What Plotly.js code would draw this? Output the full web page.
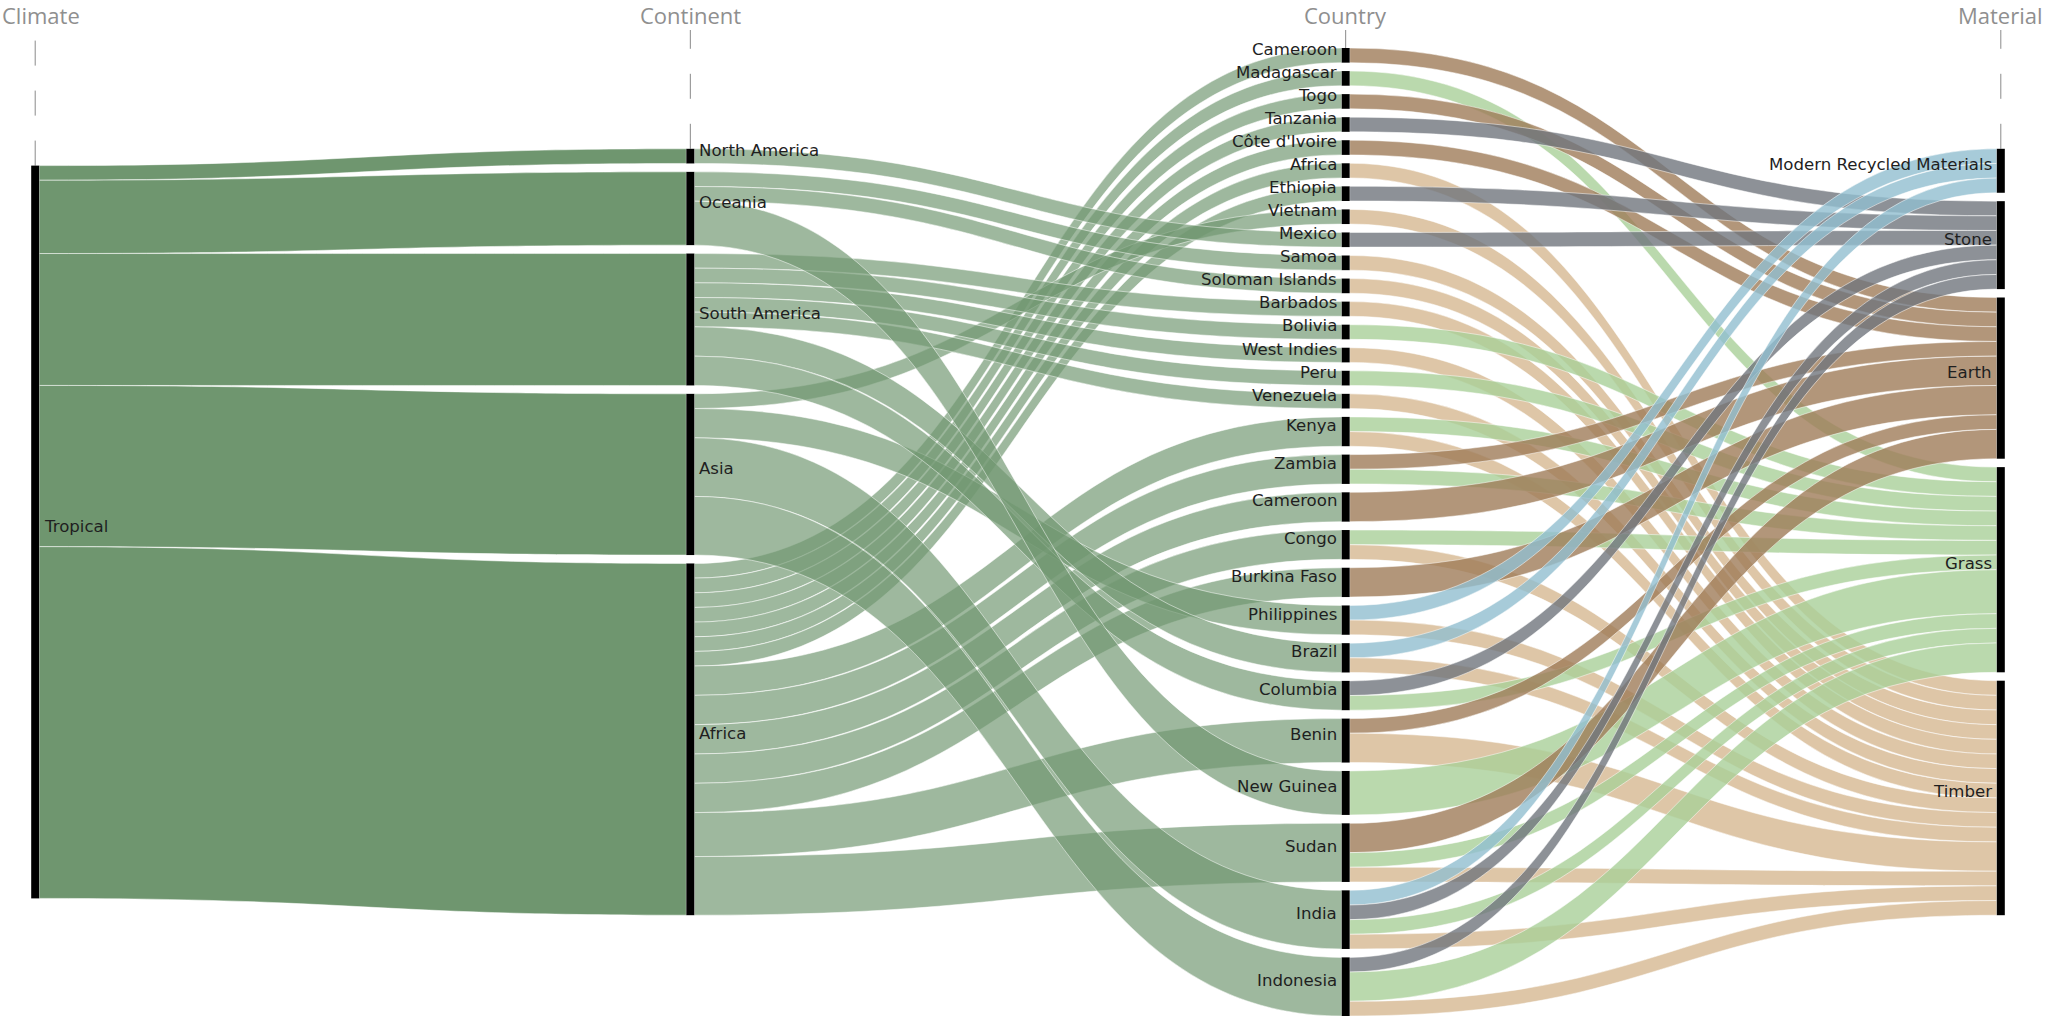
<!DOCTYPE html>
<html>
<head>
<meta charset="utf-8">
<script src="https://cdn.plot.ly/plotly-3.0.1.min.js"></script>
<style>
html,body{margin:0;padding:0;background:#fff;}
#chart{width:2048px;height:1034px;}
</style>
</head>
<body>
<div id="chart"></div>
<script>
// ---------- DATA ----------
const columnTitles = ['Climate', 'Continent', 'Country', 'Material'];
const climates = ['Tropical'];
const continents = ['North America', 'Oceania', 'South America', 'Asia', 'Africa'];
const countries = ['Cameroon', 'Madagascar', 'Togo', 'Tanzania', "Côte d'Ivoire", 'Africa', 'Ethiopia',
  'Vietnam', 'Mexico', 'Samoa', 'Soloman Islands', 'Barbados', 'Bolivia', 'West Indies', 'Peru',
  'Venezuela', 'Kenya', 'Zambia', 'Cameroon', 'Congo', 'Burkina Faso', 'Philippines', 'Brazil',
  'Columbia', 'Benin', 'New Guinea', 'Sudan', 'India', 'Indonesia'];
const countryContinent = ['Africa', 'Africa', 'Africa', 'Africa', 'Africa', 'Africa', 'Africa',
  'Asia', 'North America', 'Oceania', 'Oceania', 'South America', 'South America', 'South America', 'South America',
  'South America', 'Africa', 'Africa', 'Africa', 'Africa', 'Africa', 'Asia', 'South America',
  'South America', 'Africa', 'Oceania', 'Africa', 'Asia', 'Asia'];
const materials = ['Modern Recycled Materials', 'Stone', 'Earth', 'Grass', 'Timber'];

// country (index in countries) -> material flows
const flowCountry = [0, 1, 2, 3, 4, 5, 6, 7, 8, 9, 10, 11, 12, 13, 14, 15,
  16, 16, 17, 17, 18, 19, 19, 20, 21, 21, 22, 22, 23, 23, 24, 24, 25,
  26, 26, 26, 27, 27, 27, 27, 28, 28, 28];
const flowMaterial = ['Earth', 'Grass', 'Earth', 'Stone', 'Earth', 'Timber', 'Stone', 'Timber',
  'Stone', 'Timber', 'Timber', 'Timber', 'Grass', 'Timber', 'Grass', 'Timber',
  'Grass', 'Timber', 'Earth', 'Grass', 'Earth', 'Grass', 'Timber', 'Earth',
  'Modern Recycled Materials', 'Timber', 'Modern Recycled Materials', 'Timber',
  'Stone', 'Grass', 'Earth', 'Timber', 'Grass',
  'Earth', 'Grass', 'Timber', 'Modern Recycled Materials', 'Stone', 'Grass', 'Timber',
  'Stone', 'Grass', 'Timber'];
const flowValue = [1, 1, 1, 1, 1, 1, 1, 1, 1, 1, 1, 1, 1, 1, 1, 1,
  1, 1, 1, 1, 2, 1, 1, 2, 1, 1, 1, 1, 1, 1, 1, 2, 3,
  2, 1, 1, 1, 1, 1, 1, 1, 2, 1];

// ---------- STYLE ----------
const style = {
  climateLink: 'rgb(111,150,111)',
  continentLink: 'rgba(112,150,112,0.68)',
  material: {
    'Modern Recycled Materials': 'rgba(145,190,208,0.8)',
    'Stone': 'rgba(112,117,125,0.8)',
    'Earth': 'rgba(159,124,89,0.8)',
    'Grass': 'rgba(169,208,153,0.8)',
    'Timber': 'rgba(214,184,145,0.8)'
  },
  labelFont: {family: 'DejaVu Sans', size: 16.6, color: '#1f1f1f'},
  titleFont: {family: 'Open Sans', size: 22, color: '#8f8f8f'}
};
const W = 2048, HT = 1034;
const margin = {l: 35, r: 47, t: 48, b: 18};
const plotH = HT - margin.t - margin.b;
const plotW = W - margin.l - margin.r;
const pad = 8.4, thickness = 8;

// ---------- BUILD ----------
const offCont = climates.length;
const offCountry = offCont + continents.length;
const offMat = offCountry + countries.length;
const labels = [].concat(climates, continents, countries, materials);

const countryTotal = countries.map(() => 0);
flowCountry.forEach((c, i) => { countryTotal[c] += flowValue[i]; });
const contTotal = continents.map(ct => countries.reduce((s, c, i) => s + (countryContinent[i] === ct ? countryTotal[i] : 0), 0));
const matTotal = materials.map(m => flowMaterial.reduce((s, mm, i) => s + (mm === m ? flowValue[i] : 0), 0));
const climTotal = [contTotal.reduce((a, b) => a + b, 0)];

const src = [], tgt = [], val = [], col = [];
continents.forEach((ct, j) => { src.push(0); tgt.push(offCont + j); val.push(contTotal[j]); col.push(style.climateLink); });
countries.forEach((c, i) => {
  src.push(offCont + continents.indexOf(countryContinent[i])); tgt.push(offCountry + i);
  val.push(countryTotal[i]); col.push(style.continentLink);
});
flowCountry.forEach((c, i) => {
  src.push(offCountry + c); tgt.push(offMat + materials.indexOf(flowMaterial[i]));
  val.push(flowValue[i]); col.push(style.material[flowMaterial[i]]);
});

// node positions: stack each column in order, centred vertically (same scale the library uses)
const columns = [climTotal, contTotal, countryTotal, matTotal];
const maxN = Math.max(...columns.map(c => c.length));
const ky = (plotH - (maxN - 1) * pad) / climTotal[0];
const colX = [0.0001, 1 / 3, 2 / 3, 0.9999];
const nodeX = [], nodeY = [], nodeCol = [], colTop = [];
columns.forEach((vals, ci) => {
  const total = vals.reduce((a, b) => a + b, 0) * ky + (vals.length - 1) * pad;
  let y = (plotH - total) / 2;
  colTop.push(y);
  vals.forEach(v => {
    const h = v * ky;
    nodeX.push(colX[ci]);
    nodeY.push((y + h / 2) / plotH);
    nodeCol.push(ci);
    y += h + pad;
  });
});

const toPaperY = py => 1 - (py - margin.t) / plotH;

const shapes = colX.map((x, i) => ({
  type: 'line', xref: 'paper', yref: 'paper',
  x0: x, x1: x, y0: toPaperY(margin.t + colTop[i]), y1: toPaperY(30),
  line: {color: '#8a8a8a', width: 1, dash: '25px,25px'}, layer: 'below'
}));
const annotations = colX.map((x, i) => ({
  xref: 'paper', yref: 'paper',
  x: i === 0 ? -margin.l / plotW : x,
  xanchor: i === 0 ? 'left' : 'center',
  y: toPaperY(15), yanchor: 'middle',
  text: columnTitles[i], showarrow: false,
  font: style.titleFont
}));
// node labels: right of the node for the first two columns, left of it for the others
labels.forEach((lab, i) => {
  const right = nodeCol[i] < 2;
  annotations.push({
    xref: 'paper', yref: 'paper',
    x: nodeX[i], y: 1 - nodeY[i],
    xanchor: right ? 'left' : 'right', yanchor: 'middle',
    xshift: right ? 7 : -7, yshift: 6,
    text: lab, showarrow: false, font: style.labelFont
  });
});

const trace = {
  type: 'sankey',
  arrangement: 'fixed',
  hoverinfo: 'none',
  node: {
    label: labels.map(() => ''),
    x: nodeX, y: nodeY,
    pad: pad, thickness: thickness,
    color: 'black',
    line: {width: 0, color: 'black'},
    hoverinfo: 'none'
  },
  link: {
    source: src, target: tgt, value: val, color: col,
    line: {color: 'white', width: 0.5},
    hoverinfo: 'none'
  }
};

Plotly.newPlot('chart', [trace], {
  width: W, height: HT, margin: margin,
  paper_bgcolor: 'white', plot_bgcolor: 'white',
  shapes: shapes, annotations: annotations,
  font: {family: 'DejaVu Sans'}
}, {displayModeBar: false});
</script>
</body>
</html>
